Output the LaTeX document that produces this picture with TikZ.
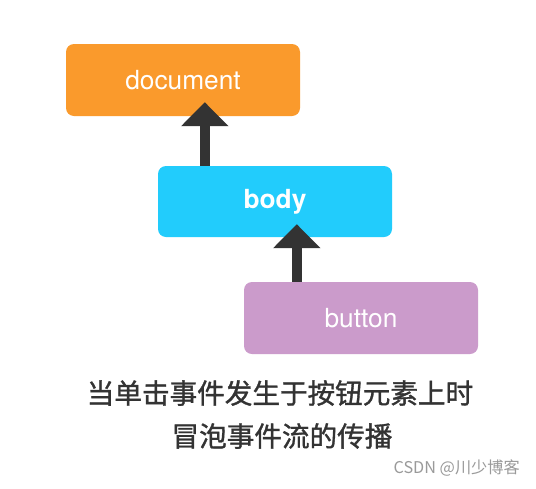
\documentclass[tikz,border=0pt]{standalone}
\usepackage{fontspec}
\setmainfont{TeX Gyre Heros}
\newfontfamily\cjk{Noto Sans CJK SC}
\newfontfamily\cjkheavy[FakeBold=1.2]{Noto Sans CJK SC}
\usetikzlibrary{arrows.meta,calc}
\definecolor{docorange}{HTML}{FA9A2C}
\definecolor{bodycyan}{HTML}{22CCFC}
\definecolor{btnpurple}{HTML}{CB9BCB}
\definecolor{arrowgray}{HTML}{333333}
\definecolor{titlegray}{HTML}{333333}
\definecolor{markgray}{HTML}{9A9A9A}
\tikzset{
  box/.style={rounded corners=8pt, minimum width=234pt, minimum height=72pt, inner sep=0pt, text=white, font=\fontsize{26.3}{31}\selectfont},
  uparrow/.style={draw=arrowgray, line width=10pt, -{Triangle[width=46pt,length=24pt]}, arrowgray},
  caption/.style={text=titlegray, font=\cjkheavy\fontsize{27.6}{32}\selectfont, inner sep=0pt},
  watermark/.style={text=markgray, font=\cjk\fontsize{16.2}{19}\selectfont, inner sep=0pt}
}
\begin{document}
\begin{tikzpicture}[x=1pt,y=-1pt]
\useasboundingbox (0,0) rectangle (536,488);
\fill[white] (0,0) rectangle (536,488);
\node[box, fill=docorange] (doc) at (183,80) {document};
\node[box, fill=bodycyan, minimum height=71pt] (body) at (275,201.5) {\bfseries body};
\node[box, fill=btnpurple] (btn) at (361,318) {button};
\coordinate (a1s) at ($(body.north west)+(47,0)$);
\coordinate (a1e) at ($(doc.south west)+(139,-14)$);
\coordinate (a2s) at ($(btn.north west)+(53,0)$);
\coordinate (a2e) at ($(body.south west)+(139,-13)$);
\draw[uparrow] (a1s) -- (a1s |- a1e);
\draw[uparrow] (a2s) -- (a2s |- a2e);
\node[caption] (cap1) at (280,393) {当单击事件发生于按钮元素上时};
\node[caption] (cap2) at (282,436) {冒泡事件流的传播};
\node[watermark, anchor=east] (wm) at (520,468) {CSDN @川少博客};
\end{tikzpicture}
\end{document}
